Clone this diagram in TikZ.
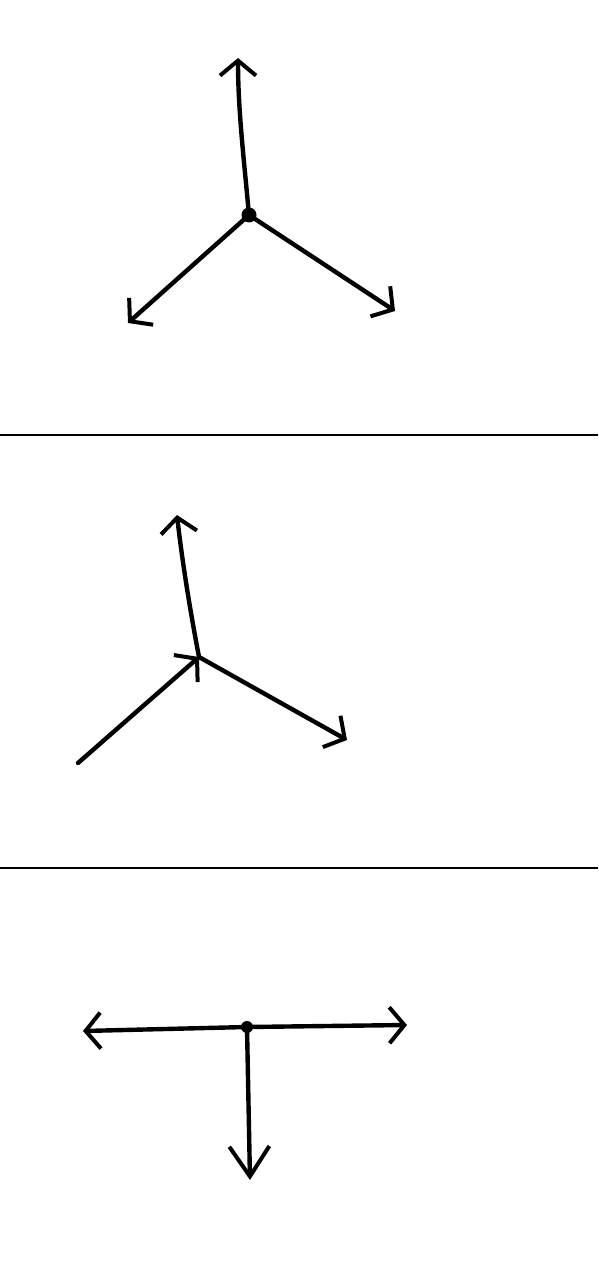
\documentclass[tikz,border=0pt]{standalone}
\usetikzlibrary{arrows.meta}
\begin{document}
\begin{tikzpicture}[x=1pt,y=-1pt,
  ink/.style={line width=4.4pt,line cap=round,line join=round,black},
  vec/.style={ink,-{Straight Barb[length=15pt,width=36pt,line width=4pt]}},
  bigvec/.style={ink,-{Straight Barb[length=30pt,width=40pt,line width=4pt]}},
  sep/.style={line width=2.2pt,black},
  dotmark/.style={circle,fill=black,inner sep=0pt,minimum size=15pt}]
\useasboundingbox (0,0) rectangle (598,1276);
\fill[white] (0,0) rectangle (598,1276);
% separators
\coordinate (s1l) at (0,435); \coordinate (s1r) at (598,435);
\coordinate (s2l) at (0,868); \coordinate (s2r) at (598,868);
\draw[sep] (s1l) -- (s1r);
\draw[sep] (s2l) -- (s2r);
% panel 1
\coordinate (c1) at (249,215);
\coordinate (u1) at (238,58);
\coordinate (l1) at (128,323);
\coordinate (r1) at (395,311);
\draw[vec] (c1) .. controls (244,160) and (238,110) .. (u1);
\draw[vec] (c1) -- (l1);
\draw[vec] (c1) -- (r1);
\node[dotmark] (d1) at (c1) {};
% panel 2
\coordinate (c2) at (199,657);
\coordinate (u2) at (177,515);
\coordinate (t2) at (78,763);
\coordinate (r2) at (347,740);
\draw[vec] (c2) .. controls (190,610) and (182,560) .. (u2);
\draw[vec] (t2) -- (c2);
\draw[vec] (c2) -- (r2);
% panel 3
\coordinate (c3) at (247,1027);
\coordinate (l3) at (83,1031);
\coordinate (r3) at (407,1025);
\coordinate (d3) at (250,1180);
\draw[vec] (c3) -- (l3);
\draw[vec] (c3) -- (r3);
\draw[bigvec] (c3) -- (d3);
\node[dotmark,minimum size=12pt] (d3n) at (c3) {};
\end{tikzpicture}
\end{document}
